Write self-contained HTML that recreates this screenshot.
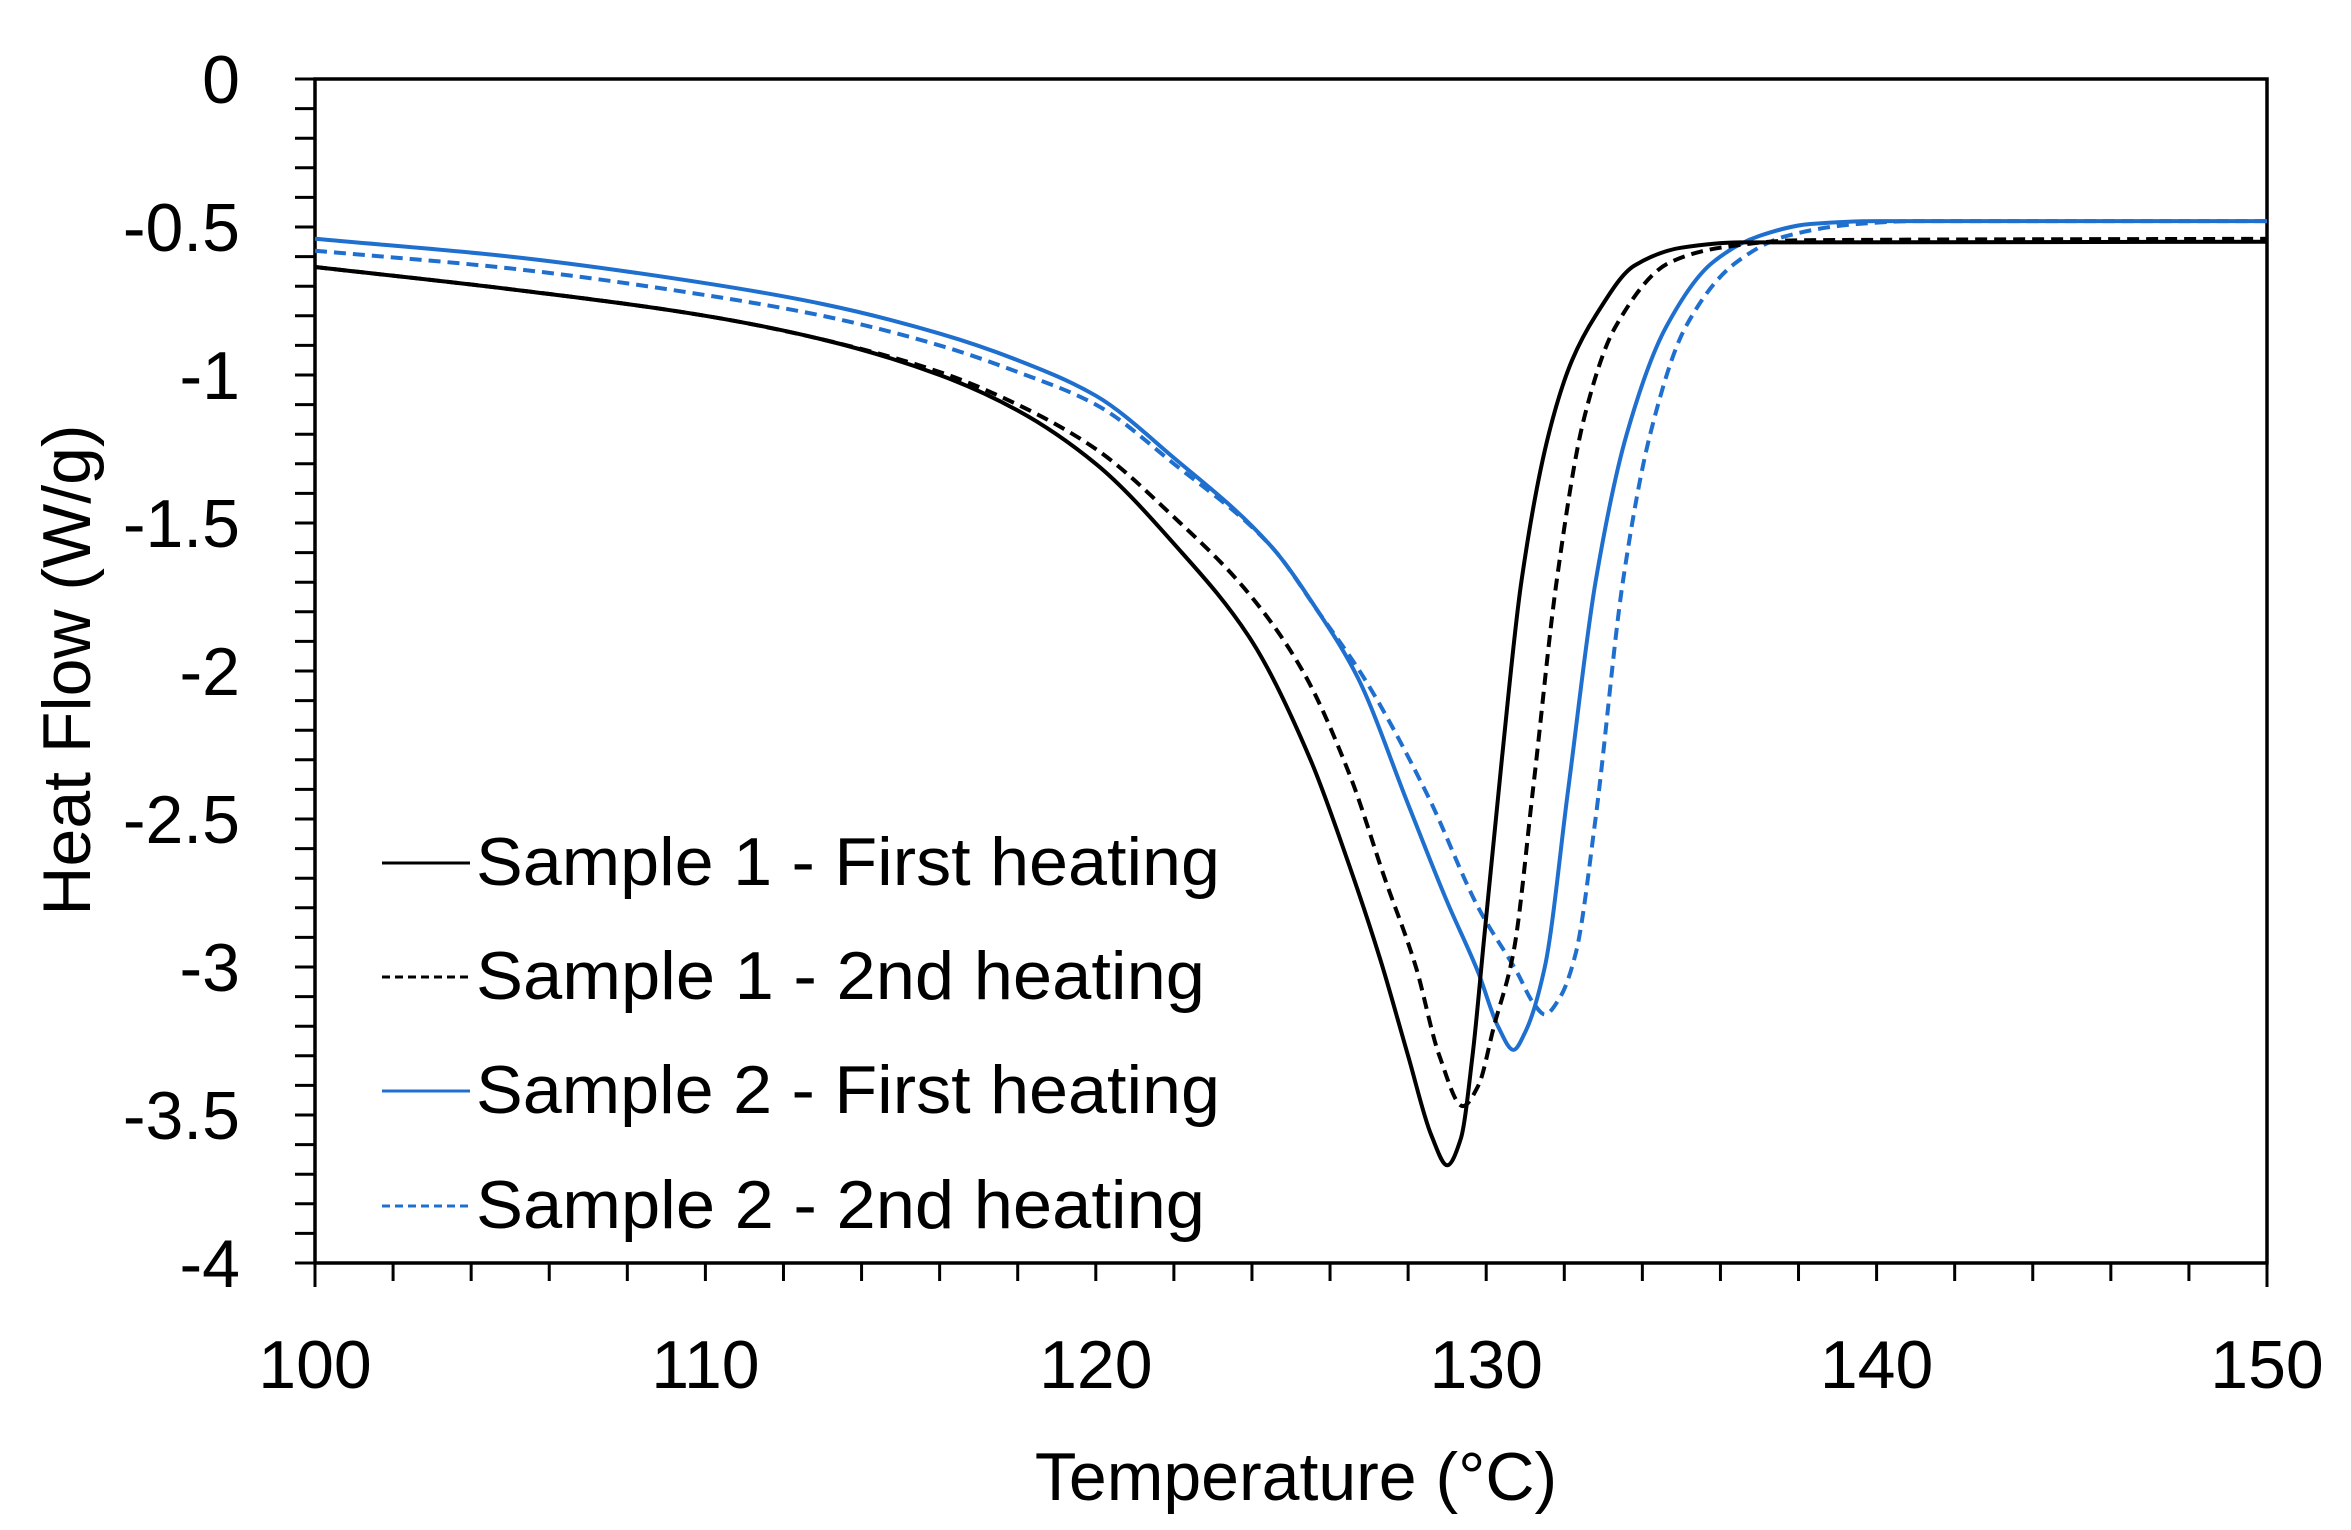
<!DOCTYPE html>
<html><head><meta charset="utf-8"><style>
html,body{margin:0;padding:0;background:#fff;}
svg{display:block;}
text{font-family:"Liberation Sans",sans-serif;fill:#000;}
</style></head><body>
<svg id="s" width="2351" height="1530" xmlns="http://www.w3.org/2000/svg">
<rect width="2351" height="1530" fill="#fff"/>
<g id="ax" stroke="#000" stroke-width="4" fill="none"></g>
<g id="curves" fill="none" stroke-width="4" stroke-linejoin="round"></g>
<g font-size="68" text-anchor="end" id="ylab"></g>
<g font-size="68" text-anchor="middle" id="xlab"></g>
<text x="1296" y="1500" font-size="68" text-anchor="middle">Temperature (°C)</text>
<text transform="translate(90,670) rotate(-90)" font-size="68" text-anchor="middle">Heat Flow (W/g)</text>
<g font-size="68">
<line x1="382" y1="863" x2="470" y2="863" stroke="#000" stroke-width="3"/>
<text x="476" y="885" textLength="744" lengthAdjust="spacingAndGlyphs">Sample 1 - First heating</text>
<line x1="382" y1="977" x2="470" y2="977" stroke="#000" stroke-width="3" stroke-dasharray="8,5"/>
<text x="476" y="999" textLength="729" lengthAdjust="spacingAndGlyphs">Sample 1 - 2nd heating</text>
<line x1="382" y1="1091" x2="470" y2="1091" stroke="#1f6fcf" stroke-width="3"/>
<text x="476" y="1113" textLength="744" lengthAdjust="spacingAndGlyphs">Sample 2 - First heating</text>
<line x1="382" y1="1206" x2="470" y2="1206" stroke="#1f6fcf" stroke-width="3" stroke-dasharray="8,5"/>
<text x="476" y="1228" textLength="729" lengthAdjust="spacingAndGlyphs">Sample 2 - 2nd heating</text>
</g>
</svg>
<script>
var NS="http://www.w3.org/2000/svg";
var L=315,R=2267,T=79,B=1263;
function X(t){return L+(t-100)*(R-L)/50;}
function Y(v){return T-v*(B-T)/4;}
function el(p,tag,a,txt){var e=document.createElementNS(NS,tag);for(var k in a)e.setAttribute(k,a[k]);if(txt!=null)e.textContent=txt;document.getElementById(p).appendChild(e);return e;}
el("ax","rect",{x:L,y:T,width:R-L,height:B-T,"stroke-width":3.5});
for(var i=0;i<=40;i++){var y=T+i*(B-T)/40;el("ax","line",{x1:L-20,y1:y,x2:L,y2:y,"stroke-width":3});}
for(var i=0;i<=25;i++){var x=L+i*(R-L)/25;el("ax","line",{x1:x,y1:B,x2:x,y2:B+(i==0||i==25?24:18),"stroke-width":3});}
var yl=["0","-0.5","-1","-1.5","-2","-2.5","-3","-3.5","-4"];
for(var i=0;i<9;i++)el("ylab","text",{x:240,y:Y(-i*0.5)+24},yl[i]);
for(var i=0;i<6;i++)el("xlab","text",{x:X(100+i*10),y:1388},String(100+i*10));
function path(pts){
 var n=pts.length,xs=pts.map(function(q){return q[0]}),ys=pts.map(function(q){return q[1]});
 var d=[],m=[];for(var i=0;i<n-1;i++)d.push((ys[i+1]-ys[i])/(xs[i+1]-xs[i]));
 m[0]=d[0];m[n-1]=d[n-2];
 for(var i=1;i<n-1;i++){if(d[i-1]*d[i]<=0)m[i]=0;else{var h0=xs[i]-xs[i-1],h1=xs[i+1]-xs[i];var w1=2*h1+h0,w2=h1+2*h0;m[i]=(w1+w2)/(w1/d[i-1]+w2/d[i]);}}
 var s="M"+X(xs[0]).toFixed(1)+","+Y(ys[0]).toFixed(1);
 for(var i=0;i<n-1;i++){var h=xs[i+1]-xs[i];
  s+=" C"+X(xs[i]+h/3).toFixed(1)+","+Y(ys[i]+m[i]*h/3).toFixed(1)+" "+X(xs[i+1]-h/3).toFixed(1)+","+Y(ys[i+1]-m[i+1]*h/3).toFixed(1)+" "+X(xs[i+1]).toFixed(1)+","+Y(ys[i+1]).toFixed(1);}
 return s;}
var S1F=[[100,-0.635],[105,-0.71],[110,-0.80],[113,-0.88],[116,-1.0],[118,-1.12],[120,-1.3],[122,-1.57],[124,-1.9],[125.5,-2.3],[126.5,-2.66],[127.3,-2.98],[128.0,-3.3],[128.6,-3.57],[129.0,-3.67],[129.35,-3.58],[129.65,-3.3],[129.95,-2.9],[130.4,-2.3],[130.9,-1.7],[131.6,-1.2],[132.2,-0.95],[132.8,-0.8],[133.8,-0.63],[135,-0.57],[136.5,-0.552],[150,-0.55]];
var S1D=[[100,-0.635],[105,-0.71],[110,-0.80],[113,-0.88],[116,-0.99],[118,-1.1],[120,-1.25],[122,-1.48],[123.8,-1.72],[125.3,-2.0],[126.5,-2.35],[127.4,-2.7],[128.2,-3.0],[128.8,-3.3],[129.4,-3.47],[129.8,-3.4],[130.2,-3.2],[130.7,-2.95],[131.2,-2.4],[131.8,-1.7],[132.5,-1.15],[133.3,-0.84],[134.7,-0.62],[136,-0.57],[138,-0.545],[150,-0.54]];
var S2F=[[100,-0.54],[105,-0.6],[110,-0.69],[113,-0.76],[116,-0.86],[118,-0.95],[120,-1.07],[122,-1.28],[124.5,-1.58],[125.7,-1.8],[126.7,-2.02],[128,-2.45],[129.0,-2.78],[129.8,-3.02],[130.3,-3.2],[130.7,-3.28],[131.0,-3.22],[131.5,-3.0],[132.1,-2.4],[132.8,-1.7],[133.6,-1.2],[134.6,-0.84],[135.8,-0.62],[137,-0.53],[138.3,-0.49],[140,-0.48],[150,-0.48]];
var S2D=[[100,-0.58],[105,-0.64],[110,-0.73],[113,-0.8],[116,-0.9],[118,-0.99],[120,-1.1],[122,-1.3],[124.5,-1.58],[125.7,-1.8],[126.9,-2.03],[128.5,-2.42],[129.8,-2.8],[130.8,-3.02],[131.2,-3.12],[131.5,-3.16],[131.9,-3.1],[132.3,-2.95],[132.8,-2.5],[133.5,-1.7],[134.2,-1.2],[135.1,-0.84],[136.4,-0.62],[137.7,-0.53],[139.5,-0.49],[141,-0.48],[150,-0.48]];
el("curves","path",{d:path(S2D),stroke:"#1f6fcf","stroke-dasharray":"12,7"});
el("curves","path",{d:path(S2F),stroke:"#1f6fcf"});
el("curves","path",{d:path(S1D),stroke:"#000","stroke-dasharray":"12,7"});
el("curves","path",{d:path(S1F),stroke:"#000"});
</script>
</body></html>
